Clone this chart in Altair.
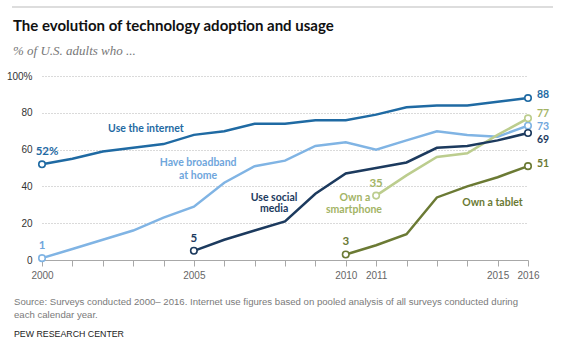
import altair as alt
import pandas as pd

# ---- data ----
years_internet = list(range(2000, 2017))
internet = [52, 55, 59, 61, 63, 68, 70, 74, 74, 76, 76, 79, 83, 84, 84, 86, 88]

years_broadband = list(range(2000, 2017))
broadband = [1, 6, 11, 16, 23, 29, 42, 51, 54, 62, 64, 60, 65, 70, 68, 67, 73]

years_social = list(range(2005, 2017))
social = [5, 11, 16, 21, 36, 47, 50, 53, 61, 62, 65, 69]

years_smartphone = list(range(2011, 2017))
smartphone = [35, 46, 56, 58, 68, 77]

years_tablet = list(range(2010, 2017))
tablet = [3, 8, 14, 34, 40, 45, 51]

start_labels = ["52%", "1", "5", "35", "3"]
end_labels = ["88", "73", "69", "77", "51"]

name_texts = ["Use the internet", "Have broadband", "at home", "Use social", "media",
              "Own a", "smartphone", "Own a tablet"]
name_years = [2003.42, 2005.14, 2005.14, 2007.64, 2007.64, 2010.30, 2010.27, 2014.83]
name_values = [71.4, 52.7, 45.6, 33.9, 27.6, 33.9, 27.2, 31.1]
name_series = ["internet", "broadband", "broadband", "social", "social",
               "smartphone", "smartphone", "tablet"]

x_label_years = [2000, 2005, 2010, 2011, 2015, 2016]
y_ticks = [0, 20, 40, 60, 80, 100]

title_text = "The evolution of technology adoption and usage"
subtitle_text = "% of U.S. adults who ..."
source_lines = [
    "Source: Surveys conducted 2000\u2013 2016. Internet use figures based on pooled analysis of all surveys conducted during",
    "each calendar year.",
]
credit_text = "PEW RESEARCH CENTER"

# ---- styles ----
LABEL_FONT = "Lato, Roboto, sans-serif"
BODY_FONT = "Liberation Sans, Arial, sans-serif"

series_style = {
    "internet": {"color": "#1f6aa3", "text": "#1f6aa3", "end_dy": -3},
    "broadband": {"color": "#80b4e4", "text": "#6fa6dc", "end_dy": 1.5},
    "social": {"color": "#1c3a5e", "text": "#1c3a5e", "end_dy": 7},
    "smartphone": {"color": "#bccd8e", "text": "#a3b465", "end_dy": -4},
    "tablet": {"color": "#6b7a34", "text": "#6b7a34", "end_dy": -2},
}

series_data = {
    "internet": (years_internet, internet, start_labels[0], end_labels[0]),
    "broadband": (years_broadband, broadband, start_labels[1], end_labels[1]),
    "social": (years_social, social, start_labels[2], end_labels[2]),
    "smartphone": (years_smartphone, smartphone, start_labels[3], end_labels[3]),
    "tablet": (years_tablet, tablet, start_labels[4], end_labels[4]),
}

x_scale = alt.Scale(domain=[2000, 2016], nice=False, zero=False)
y_scale = alt.Scale(domain=[0, 100], nice=False)

label_expr = "indexof([" + ",".join(str(v) for v in x_label_years) + "], datum.value) >= 0 ? datum.label : ''"

x_axis = alt.Axis(
    values=list(range(2000, 2017)), format="d", labelExpr=label_expr, title=None,
    grid=False, domainColor="#a8a8a8", tickColor="#a8a8a8", tickSize=6,
    labelColor="#666666", labelFont=BODY_FONT, labelFontSize=10, labelPadding=4,
    labelFlush=False,
)
y_axis = alt.Axis(
    values=y_ticks, title=None, domain=False, ticks=False,
    labelExpr="datum.value == 100 ? '100%' : datum.label",
    gridDash=[1, 2], gridColor="#b5b5b5", gridWidth=1,
    labelColor="#333333", labelFont=BODY_FONT, labelFontSize=10, labelPadding=10,
)

X = alt.X("year:Q", scale=x_scale, axis=x_axis)
Y = alt.Y("value:Q", scale=y_scale, axis=y_axis)

layers = []

for key in ["broadband", "internet", "smartphone", "tablet", "social"]:
    yrs, vals, s_lab, e_lab = series_data[key]
    st = series_style[key]
    df = pd.DataFrame({"year": yrs, "value": vals})
    line = alt.Chart(df).mark_line(color=st["color"], strokeWidth=2.5).encode(x=X, y=Y)
    ends = pd.DataFrame({"year": [yrs[0], yrs[-1]], "value": [vals[0], vals[-1]]})
    pts = alt.Chart(ends).mark_point(
        shape="circle", filled=True, fill="white", stroke=st["color"],
        strokeWidth=1.6, size=42, opacity=1,
    ).encode(x=X, y=Y)
    sdf = pd.DataFrame({"year": [yrs[0]], "value": [vals[0]], "t": [s_lab]})
    slab = alt.Chart(sdf).mark_text(
        font=LABEL_FONT, fontWeight="bold", fontSize=11.5, color=st["text"],
        dy=-12, dx=(5 if key == "internet" else 0), baseline="middle", align="center",
    ).encode(x=X, y=Y, text="t:N")
    edf = pd.DataFrame({"year": [yrs[-1]], "value": [vals[-1]], "t": [e_lab]})
    elab = alt.Chart(edf).mark_text(
        font=LABEL_FONT, fontWeight="bold", fontSize=10.5, color=st["text"],
        dx=9, dy=st["end_dy"], baseline="middle", align="left",
    ).encode(x=X, y=Y, text="t:N")
    layers += [line, pts, slab, elab]

# series name labels
for key in series_style:
    idx = [i for i, s in enumerate(name_series) if s == key]
    ndf = pd.DataFrame({
        "year": [name_years[i] for i in idx],
        "value": [name_values[i] for i in idx],
        "t": [name_texts[i] for i in idx],
    })
    layers.append(
        alt.Chart(ndf).mark_text(
            font=LABEL_FONT, fontWeight="bold", fontSize=10.5, color=series_style[key]["text"],
            baseline="middle", align="center",
        ).encode(x=X, y=Y, text="t:N")
    )

# header / footer text
def text_layer(t, x, y, **kw):
    return alt.Chart(pd.DataFrame({"t": [t]})).mark_text(align="left", baseline="alphabetic", **kw).encode(
        x=alt.value(x), y=alt.value(y), text="t:N"
    )

top_rule = alt.Chart(pd.DataFrame({"a": [0]})).mark_rule(color="#dddddd", strokeWidth=2).encode(
    x=alt.value(-30), x2=alt.value(511), y=alt.value(-69)
)
layers.append(top_rule)
layers.append(text_layer(title_text, -29, -45, font=LABEL_FONT, fontSize=15, fontWeight="bold", color="#111111"))
layers.append(text_layer(subtitle_text, -29, -21, font="Liberation Serif, Georgia, serif", fontSize=13,
                         fontStyle="italic", color="#777777"))
layers.append(text_layer(source_lines[0], -28, 229, font=BODY_FONT, fontSize=9.6, color="#7a7a7a"))
layers.append(text_layer(source_lines[1], -28, 242, font=BODY_FONT, fontSize=9.6, color="#7a7a7a"))
layers.append(text_layer(credit_text, -28, 261, font=BODY_FONT, fontSize=8.8, color="#222222"))

chart = alt.layer(*layers).properties(
    width=486, height=184,
    autosize=alt.AutoSizeParams(type="none"),
    padding={"left": 42, "top": 76, "right": 56, "bottom": 90},
    background="white",
).configure_view(stroke=None)

chart.save("out.html", embed_options={"renderer": "svg", "actions": False})
